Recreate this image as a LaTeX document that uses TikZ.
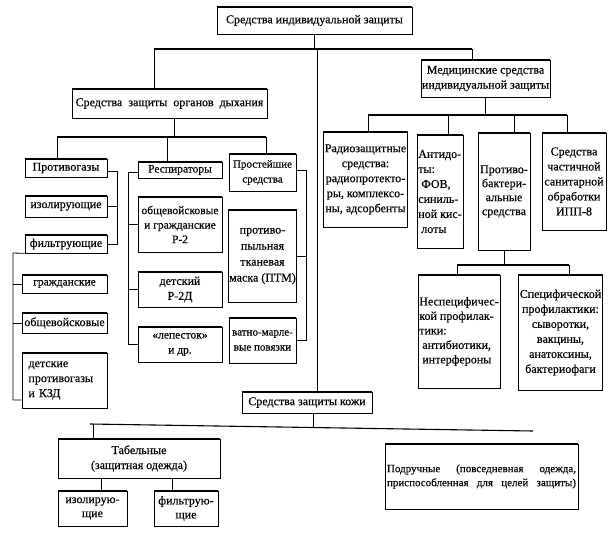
\documentclass[tikz,border=0pt]{standalone}
\usepackage{fontspec}
\setmainfont[FakeBold=0.4]{Liberation Serif}
\newcommand\fsz[2]{\fontsize{#1}{#2}\selectfont}
\newcommand\bx[6][]{\node[box,#1,minimum width={#4pt-#2pt},minimum height={#5pt-#3pt}] (#6) at ({(#2+#4)/2},{(#3+#5)/2})}
\tikzset{
  box/.style={draw, line width=0.7pt, inner sep=1pt, align=center, font=\fsz{12}{15}},
  con/.style={line width=0.8pt},
  bar/.style={line width=1.1pt},
  rim/.style={line width=1.3pt}
}
\begin{document}
\begin{tikzpicture}[x=1pt,y=-1pt]
\useasboundingbox (0,0) rectangle (614,536);
% top level
\bx{217}{7}{412}{34}{top} {Средства индивидуальной защиты};
\bx{72}{89}{267}{118}{sod} {Средства\ \ защиты\ \ органов\ \ дыхания};
\bx[font=\fsz{12}{15}]{422}{60}{549}{97}{med} {Медицинские средства\\индивидуальной защиты};
% gas masks
\bx{25}{159}{107}{177}{pg} {Противогазы};
\bx{25}{196}{107}{217}{iz} {изолирующие};
\bx{25}{235}{107}{253}{fl} {фильтрующие};
\bx[font=\fsz{11.5}{15}]{22}{275}{107}{293}{gr} {гражданские};
\bx{22}{313}{107}{333}{ob} {общевойсковые};
\bx[align=left,text width=72pt]{22}{353}{107}{408}{dp} {детские\\противогазы\\и КЗД};
% respirators
\bx[font=\fsz{11.5}{15}]{138}{162}{222}{178}{rs} {Респираторы};
\bx[font=\fsz{11.5}{14.5}]{138}{197}{222}{252}{r2} {общевойсковые\\и гражданские\\Р-2};
\bx{138}{272}{222}{307}{r2d} {детский\\Р-2Д};
\bx[font=\fsz{11.5}{15}]{138}{327}{222}{362}{lp} {«лепесток»\\и др.};
% simplest
\bx[font=\fsz{11}{15}]{229}{154}{296}{191}{ps} {Простейшие\\средства};
\bx[font=\fsz{12}{16}]{229}{210}{296}{302}{ptm} {противо-\\пыльная\\тканевая\\маска (ПТМ)};
\bx[font=\fsz{11}{15}]{229}{318}{296}{363}{vm} {ватно-марле-\\вые повязки};
% medical
\bx{324}{132}{407}{227}{rad} {Радиозащитные\\средства:\\радиопротекто-\\ры, комплексо-\\ны, адсорбенты};
\bx[align=left]{417}{135}{463}{248}{ant} {Антидо-\\ты:\\\hspace{3pt}ФОВ,\\синиль-\\ной кис-\\\hspace{3pt}лоты};
\bx[font=\fsz{12}{14}]{478}{133}{530}{250}{pb} {Противо-\\бактери-\\альные\\средства};
\bx{542}{133}{606}{230}{chs} {Средства\\частичной\\санитарной\\обработки\\ИПП-8};
\bx[align=left,font=\fsz{12}{14.5}]{418}{275}{500}{388}{nsp} {Неспецифичес-\\кой профилак-\\тики:\\\hspace{3pt}антибиотики,\\\hspace{3pt}интерфероны};
\bx{519}{275}{602}{390}{sp} {Специфической\\профилактики:\\сыворотки,\\вакцины,\\анатоксины,\\бактериофаги};
% skin
\bx{242}{392}{372}{413}{kozh} {Средства защиты кожи};
\bx{58}{439}{220}{478}{tab} {Табельные\\(защитная одежда)};
\bx[font=\fsz{11}{14}]{385}{444}{578}{509}{pod} {\hbox to 189pt{Подручные\hfill(повседневная\hfill одежда,}\\\hbox to 189pt{приспособленная\hfill для\hfill целей\hfill защиты)}};
\bx[font=\fsz{12}{14}]{58}{491}{127}{526}{izk} {изолирую-\\щие};
\bx[font=\fsz{12}{14}]{154}{491}{218}{526}{flk} {фильтрую-\\щие};

% heavier top and bottom rims of the boxes
\foreach \n in {top,sod,med,pg,iz,fl,gr,ob,dp,rs,r2,r2d,lp,ps,ptm,vm,rad,ant,pb,chs,nsp,sp,kozh,tab,pod,izk,flk}
  \draw[rim] (\n.north west) -- (\n.north east) (\n.south west) -- (\n.south east);

% connectors: level 1
\coordinate (b1L) at (154,49);
\coordinate (b1M) at (317,49);
\coordinate (b1R) at (472,49);
\draw[con] (top.south) -- (top.south |- b1L);
\draw[bar] (b1L) -- (b1R);
\draw[con] (b1L) -- (b1L |- sod.north);
\draw[con] (b1R) -- (b1R |- med.north);
\draw[con] (b1M) -- (b1M |- kozh.north);
% respiratory
\coordinate (b2L) at (57,137);
\coordinate (b2S) at (174,137);
\coordinate (b2M) at (167,137);
\coordinate (b2R) at (266,137);
\draw[con] (sod.south -| b2S) -- (b2S);
\draw[bar] (b2L) -- (b2R);
\draw[con] (b2L) -- (b2L |- pg.north);
\draw[con] (b2M) -- (b2M |- rs.north);
\draw[con] (b2R) -- (b2R |- ps.north);
% gas mask brackets
\coordinate (brA) at (117,171);
\draw[con] (pg.east |- brA) -- (brA) -- (brA |- fl.east) -- (fl.east);
\draw[con] (iz.east) -- (iz.east -| brA);
\coordinate (brB) at (13,253);
\coordinate (brBe) at (13,400);
\draw[con] (fl.south west) -- (brB) -- (brBe) -- (brBe -| dp.west);
\draw[con] (gr.west) -- (gr.west -| brB);
\draw[con] (ob.west) -- (ob.west -| brB);
% respirator bracket
\coordinate (brC) at (128,172);
\draw[con] (rs.west |- brC) -- (brC) -- (brC |- lp.west) -- (lp.west);
\draw[con] (r2.west) -- (r2.west -| brC);
\draw[con] (r2d.west) -- (r2d.west -| brC);
% simplest bracket
\coordinate (brD) at (306,170);
\draw[con] (ps.east |- brD) -- (brD) -- (brD |- vm.east) -- (vm.east);
\draw[con] (ptm.east) -- (ptm.east -| brD);
% medical
\coordinate (b3L) at (368,115);
\coordinate (b3A) at (448,115);
\coordinate (b3B) at (514,115);
\coordinate (b3R) at (567,115);
\draw[con] (med.south) -- (med.south |- b3L);
\draw[bar] (b3L) -- (b3R);
\draw[con] (b3L) -- (b3L |- rad.north);
\draw[con] (b3A) -- (b3A |- ant.north);
\draw[con] (b3B) -- (b3B |- pb.north);
\draw[con] (b3R) -- (b3R |- chs.north);
% antibacterial
\coordinate (b4L) at (457,265);
\coordinate (b4R) at (569,265);
\draw[con] (pb.south) -- (pb.south |- b4L);
\draw[bar] (b4L) -- (b4R);
\draw[con] (b4L) -- (b4L |- nsp.north);
\draw[con] (b4R) -- (b4R |- sp.north);
% skin
\coordinate (b5L) at (90,424);
\coordinate (b5T) at (93,424);
\coordinate (b5K) at (313,427.5);
\coordinate (b5R) at (533,431);
\draw[con] (kozh.south -| b5K) -- (b5K);
\draw[bar] (b5L) -- (b5R);
\draw[con] (b5T) -- (b5T |- tab.north);
\draw[con] ([xshift=8.5pt]izk.north) -- ([xshift=8.5pt]izk.north |- tab.south);
\draw[con] ([xshift=-14pt]flk.north) -- ([xshift=-14pt]flk.north |- tab.south);
\end{tikzpicture}
\end{document}
